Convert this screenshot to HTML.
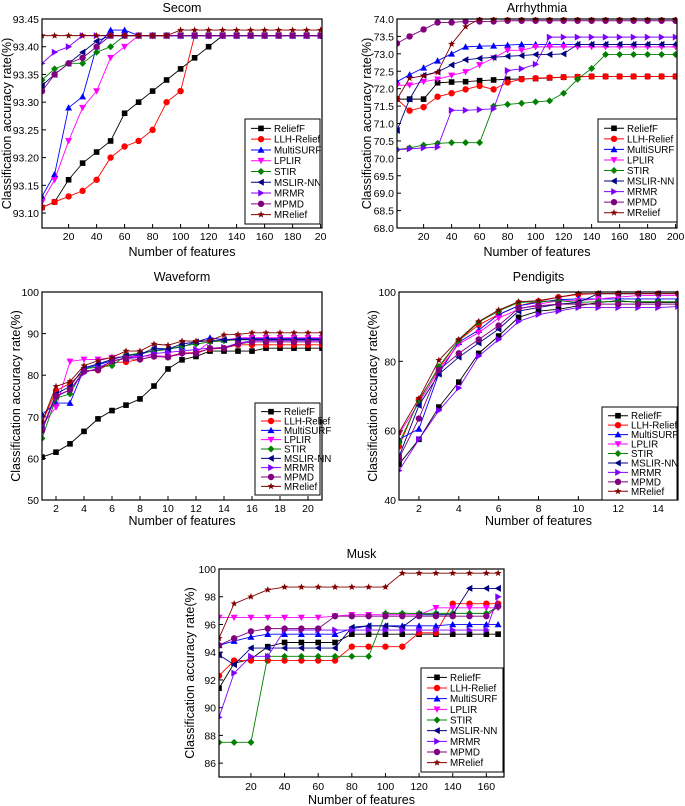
<!DOCTYPE html>
<html><head><meta charset="utf-8">
<style>
html,body{margin:0;padding:0;background:#fff;}
svg{display:block;font-family:"Liberation Sans",Arial,sans-serif;}
</style></head>
<body>
<svg id="root" width="685" height="806" viewBox="0 0 685 806" xmlns="http://www.w3.org/2000/svg"></svg>
<script>
const seriesNames = ["ReliefF","LLH-Relief","MultiSURF","LPLIR","STIR","MSLIR-NN","MRMR","MPMD","MRelief"];
const seriesColors = ["#000000","#ff0000","#0000ff","#ff00ff","#008000","#000080","#8000ff","#800080","#800000"];
const seriesMarkers = ["square","circle","up","down","diamond","left","right","circle","star"];

// Secom
const secomX = [1,10,20,30,40,50,60,70,80,90,100,110,120,130,140,150,160,170,180,190,200];
const secomReliefF = [93.11,93.12,93.16,93.19,93.21,93.23,93.28,93.30,93.32,93.34,93.36,93.38,93.40,93.42,93.42,93.42,93.42,93.42,93.42,93.42,93.42];
const secomLLH = [93.11,93.12,93.13,93.14,93.16,93.20,93.22,93.23,93.25,93.30,93.32,93.42,93.42,93.42,93.42,93.42,93.42,93.42,93.42,93.42,93.42];
const secomMultiSURF = [93.13,93.17,93.29,93.31,93.40,93.43,93.43,93.42,93.42,93.42,93.42,93.42,93.42,93.42,93.42,93.42,93.42,93.42,93.42,93.42,93.42];
const secomLPLIR = [93.12,93.16,93.23,93.29,93.32,93.38,93.40,93.42,93.42,93.42,93.42,93.42,93.42,93.42,93.42,93.42,93.42,93.42,93.42,93.42,93.42];
const secomSTIR = [93.34,93.36,93.37,93.37,93.39,93.40,93.42,93.42,93.42,93.42,93.42,93.42,93.42,93.42,93.42,93.42,93.42,93.42,93.42,93.42,93.42];
const secomMSLIR = [93.33,93.35,93.37,93.39,93.41,93.42,93.42,93.42,93.42,93.42,93.42,93.42,93.42,93.42,93.42,93.42,93.42,93.42,93.42,93.42,93.42];
const secomMRMR = [93.37,93.39,93.40,93.42,93.42,93.42,93.42,93.42,93.42,93.42,93.42,93.42,93.42,93.42,93.42,93.42,93.42,93.42,93.42,93.42,93.42];
const secomMPMD = [93.32,93.35,93.37,93.38,93.40,93.42,93.42,93.42,93.42,93.42,93.42,93.42,93.42,93.42,93.42,93.42,93.42,93.42,93.42,93.42,93.42];
const secomMRelief = [93.42,93.42,93.42,93.42,93.42,93.42,93.42,93.42,93.42,93.42,93.43,93.43,93.43,93.43,93.43,93.43,93.43,93.43,93.43,93.43,93.43];
const secomXTicks = [20,40,60,80,100,120,140,160,180,200];
const secomXTickLabels = ["20","40","60","80","100","120","140","160","180","20"];
const secomYTicks = [93.10,93.15,93.20,93.25,93.30,93.35,93.40,93.45];

// Arrhythmia
const arrX = [1,10,20,30,40,50,60,70,80,90,100,110,120,130,140,150,160,170,180,190,200];
const arrReliefF = [71.7,71.7,71.7,72.17,72.19,72.2,72.23,72.25,72.27,72.28,72.29,72.31,72.33,72.34,72.35,72.35,72.35,72.35,72.35,72.35,72.35];
const arrLLH = [71.7,71.37,71.47,71.77,71.87,71.98,72.08,71.98,72.18,72.27,72.3,72.32,72.33,72.34,72.35,72.35,72.35,72.35,72.35,72.35,72.35];
const arrMultiSURF = [72.2,72.4,72.6,72.8,73.0,73.2,73.22,73.23,73.25,73.27,73.27,73.27,73.27,73.27,73.27,73.27,73.27,73.27,73.27,73.27,73.27];
const arrLPLIR = [72.1,72.1,72.2,72.27,72.38,72.48,72.68,72.88,73.1,73.1,73.2,73.2,73.2,73.2,73.2,73.2,73.2,73.2,73.2,73.2,73.2];
const arrSTIR = [70.25,70.3,70.38,70.43,70.45,70.45,70.45,71.5,71.55,71.58,71.62,71.65,71.87,72.27,72.58,72.98,72.98,72.98,72.98,72.98,72.98];
const arrMSLIR = [70.8,71.7,72.38,72.48,72.68,72.83,72.87,72.9,72.93,72.95,72.98,72.98,73.0,73.27,73.27,73.27,73.27,73.27,73.27,73.27,73.27];
const arrMRMR = [70.25,70.27,70.3,70.32,71.38,71.38,71.4,71.42,72.52,72.57,72.7,73.48,73.48,73.48,73.48,73.48,73.48,73.48,73.48,73.48,73.48];
const arrMPMD = [73.3,73.5,73.7,73.9,73.9,73.93,73.93,73.93,73.95,73.95,73.95,73.95,73.95,73.95,73.95,73.95,73.95,73.95,73.95,73.95,73.95];
const arrMRelief = [71.7,72.3,72.37,72.47,73.28,73.78,74.0,74.0,74.0,74.0,74.0,74.0,74.0,74.0,74.0,74.0,74.0,74.0,74.0,74.0,74.0];
const arrXTicks = [20,40,60,80,100,120,140,160,180,200];
const arrXTickLabels = ["20","40","60","80","100","120","140","160","180","200"];
const arrYTicks = [68.0,68.5,69.0,69.5,70.0,70.5,71.0,71.5,72.0,72.5,73.0,73.5,74.0];

// Waveform
const wavX = [1,2,3,4,5,6,7,8,9,10,11,12,13,14,15,16,17,18,19,20,21];
const wavReliefF = [60.3,61.5,63.5,66.5,69.5,71.5,72.8,74.3,77.4,81.5,83.7,84.5,85.8,85.8,85.8,85.8,86.5,86.5,86.5,86.5,86.5];
const wavLLH = [68.5,76.3,78,81,81.2,83,83.2,83.8,84.5,84.5,85.3,85.5,86.3,86.5,87.3,87.3,87.3,87.3,87.3,87.3,87.3];
const wavMultiSURF = [70.6,73.3,73.3,81.5,82.5,83.5,84,85,86,86.3,86.8,88,89,88.5,88.8,88.8,88.8,88.8,88.8,88.8,88.8];
const wavLPLIR = [68,72.3,83.3,83.8,83.8,84.2,84.5,84.5,84.7,84.5,85,85.5,88,88.3,89,89,89,89,89,89,89];
const wavSTIR = [64.8,74.5,75.5,81.5,82,82.3,84.8,85.3,85.8,86.2,87,87.5,88,88.3,88.5,88.5,88.5,88.5,88.5,88.5,88.5];
const wavMSLIR = [67,75.5,77.3,81.8,82.7,83.8,84.7,85,86.5,86.3,87.5,88,88.3,88.5,88.6,88.6,88.6,88.6,88.6,88.6,88.6];
const wavMRMR = [67.3,74.8,76.5,80.5,81.8,83.3,84.2,84.3,85.2,85.5,85.8,86.2,86.5,86.7,87.7,88.3,88.3,88.3,88.3,88.3,88.3];
const wavMPMD = [66.7,75,76.5,81,81.3,83.5,84,83.8,84.5,84.3,85.3,85.2,86.5,86.5,87.5,88,88,88,88,88,88];
const wavMRelief = [68.8,77.3,78.5,82.3,83.5,84.3,85.8,85.8,87.5,87.2,88.2,88.2,88.3,89.7,89.8,90.2,90.2,90.2,90.2,90.2,90.2];
const wavXTicks = [2,4,6,8,10,12,14,16,18,20];
const wavXTickLabels = ["2","4","6","8","10","12","14","16","18","20"];
const wavYTicks = [50,60,70,80,90,100];

// Pendigits
const penX = [1,2,3,4,5,6,7,8,9,10,11,12,13,14,15];
const penReliefF = [50.3,57.5,66.8,74,82.3,87.3,92.7,94.5,95,96,97,97.5,97,97,97];
const penLLH = [55.5,69,78,86,90.5,93.5,96,97.3,98.5,99.3,99.5,99.5,99.5,99.5,99.5];
const penMultiSURF = [57.5,60.5,76.5,85.5,89,93.5,96,97,97.8,98,98,98,98,98,98];
const penLPLIR = [59,68,77.5,85,88.3,92.5,95,96.5,97.5,97.5,98,98.5,99,99,99];
const penSTIR = [56.5,68.5,78.5,86,91.3,94.5,97,97.2,97.5,97,97.2,97.2,97.2,97.2,97.2];
const penMSLIR = [52.5,67.3,76.3,81.2,85.3,89.3,94.5,95.5,96.5,97,99.5,99.5,99.5,99.5,99.5];
const penMRMR = [48.5,57.5,65.8,72.3,81.5,86.3,91.5,93.5,94.5,95.5,95.5,95.5,95.5,95.5,95.8];
const penMPMD = [52,63.5,77.5,82.3,86.3,90.3,95.3,96,96.5,96.5,96.5,96.5,96.5,96.5,96.5];
const penMRelief = [59.5,69.3,80.3,86.3,91.5,94.8,97.2,97.5,98.5,99.5,99.5,99.5,99.5,99.5,99.5];
const penXTicks = [2,4,6,8,10,12,14];
const penXTickLabels = ["2","4","6","8","10","12","14"];
const penYTicks = [40,60,80,100];

// Musk
const muskX = [1,10,20,30,40,50,60,70,80,90,100,110,120,130,140,150,160,167];
const muskReliefF = [91.4,93.2,93.5,94.4,94.7,94.7,94.7,94.7,95.3,95.3,95.3,95.3,95.3,95.3,95.3,95.3,95.3,95.3];
const muskLLH = [92.3,93.4,93.4,93.4,93.4,93.4,93.4,93.4,94.4,94.4,94.4,94.4,95.4,95.4,97.5,97.5,97.5,97.5];
const muskMultiSURF = [94.5,94.8,95.1,95.3,95.3,95.3,95.3,95.3,95.7,95.9,95.9,95.9,95.9,95.9,96,96,96,96];
const muskLPLIR = [96.5,96.5,96.5,96.5,96.5,96.5,96.5,96.6,96.7,96.7,96.7,96.7,96.7,97.2,97.2,97.2,97.2,97.2];
const muskSTIR = [87.5,87.5,87.5,93.7,93.7,93.7,93.7,93.7,93.7,93.7,96.8,96.8,96.8,96.8,96.8,96.8,96.8,97.3];
const muskMSLIR = [93.8,93.1,94.3,94.3,94.3,94.3,94.3,94.3,95.8,95.9,95.9,95.8,96.7,96.7,96.7,98.6,98.6,98.6];
const muskMRMR = [89.3,92.5,93.7,93.7,95.6,95.6,95.6,95.6,95.6,95.6,95.6,95.6,95.6,95.6,95.6,95.6,95.6,98];
const muskMPMD = [94.5,95,95.5,95.7,95.7,95.7,95.7,96.6,96.6,96.6,96.6,96.6,96.6,96.6,96.6,96.6,96.6,97.3];
const muskMRelief = [95,97.5,98,98.5,98.7,98.7,98.7,98.7,98.7,98.7,98.7,99.7,99.7,99.7,99.7,99.7,99.7,99.7];
const muskXTicks = [20,40,60,80,100,120,140,160];
const muskXTickLabels = ["20","40","60","80","100","120","140","160"];
const muskYTicks = [86,88,90,92,94,96,98,100];

const NS = "http://www.w3.org/2000/svg";
const root = document.getElementById("root");
function mk(tag, attrs, parent){
  const e = document.createElementNS(NS, tag);
  for (const k in attrs) e.setAttribute(k, attrs[k]);
  (parent||root).appendChild(e);
  return e;
}
function marker(g, type, cx, cy, color, s){
  let e;
  if (type==="square") e = mk("rect",{x:cx-s,y:cy-s,width:2*s,height:2*s,fill:color},g);
  else if (type==="circle") e = mk("circle",{cx:cx,cy:cy,r:s+0.4,fill:color},g);
  else {
    let pts;
    const t = s*1.25;
    if (type==="up") pts=[[cx,cy-t],[cx-t,cy+t*0.8],[cx+t,cy+t*0.8]];
    else if (type==="down") pts=[[cx,cy+t],[cx-t,cy-t*0.8],[cx+t,cy-t*0.8]];
    else if (type==="left") pts=[[cx-t,cy],[cx+t*0.8,cy-t],[cx+t*0.8,cy+t]];
    else if (type==="right") pts=[[cx+t,cy],[cx-t*0.8,cy-t],[cx-t*0.8,cy+t]];
    else if (type==="diamond") pts=[[cx,cy-t],[cx+t,cy],[cx,cy+t],[cx-t,cy]];
    else if (type==="star"){
      pts=[];
      for(let i=0;i<10;i++){const r=i%2?t*0.45:t*1.05;const a=-Math.PI/2+i*Math.PI/5;pts.push([cx+r*Math.cos(a),cy+r*Math.sin(a)]);}
    }
    e = mk("polygon",{points:pts.map(p=>p.join(",")).join(" "),fill:color},g);
  }
  return e;
}

function plot(cfg){
  const g = mk("g",{});
  
  
  const {x0,x1,y0,y1,xd,yd} = cfg;
  const sx = v => x0 + (v-xd[0])/(xd[1]-xd[0])*(x1-x0);
  const sy = v => y1 - (v-yd[0])/(yd[1]-yd[0])*(y1-y0);
  const clip = "clip-"+cfg.name;
  const cp = mk("clipPath",{id:clip},g);
  mk("rect",{x:x0,y:y0-2,width:x1-x0,height:y1-y0+4},cp);

  const title = mk("text",{x:(x0+x1)/2,y:cfg.titleY,"text-anchor":"middle","font-size":"12.5"},g);
  title.textContent = cfg.title;
  
  

  cfg.xTicks.forEach((t,i)=>{
    const x = sx(t);
    mk("line",{x1:x,x2:x,y1:y1,y2:y1-4,stroke:"#000","stroke-width":1},g);
    const tl = mk("text",{x:x,y:y1+cfg.xLabOff,"text-anchor":"middle","font-size":"10.5"},g);
    tl.textContent = cfg.xLabels[i];
    
    
  });
  cfg.yTicks.forEach(t=>{
    const y = sy(t);
    mk("line",{x1:x0,x2:x0+4,y1:y,y2:y,stroke:"#000","stroke-width":1},g);
    const tl = mk("text",{x:x0-3,y:y+4,"text-anchor":"end","font-size":"10.5"},g);
    tl.textContent = t.toFixed(cfg.yDec);
    
    
  });
  const xt = mk("text",{x:(x0+x1)/2,y:cfg.xTitleY,"text-anchor":"middle","font-size":"12.5"},g);
  xt.textContent = "Number of features";
  
  
  const yt = mk("text",{x:0,y:0,"text-anchor":"middle","font-size":"12.5",transform:`translate(${cfg.yTitleX},${(y0+y1)/2}) rotate(-90)`},g);
  yt.textContent = "Classification accuracy rate(%)";
  
  

  const sg = mk("g",{"clip-path":`url(#${clip})`},g);
  cfg.series.forEach((vals,si)=>{
    const col = seriesColors[si];
    const pts = vals.map((v,i)=>[sx(cfg.xs[i]),sy(v)]);
    const pl = mk("polyline",{points:pts.map(p=>p.join(",")).join(" "),fill:"none",stroke:col,"stroke-width":0.9},sg);
    
    
    pts.forEach(p=>{
      const m = marker(sg, seriesMarkers[si], p[0], p[1], col, 2.8);
      
      
    });
  });

  const fr = mk("rect",{x:x0,y:y0,width:x1-x0,height:y1-y0,fill:"none",stroke:"#000","stroke-width":1.2},g);
  
  

  const L = cfg.legend;
  const lg = mk("g",{},g);
  
  
  mk("rect",{x:L.x,y:L.y,width:L.w,height:L.h,fill:"#fff",stroke:"#000","stroke-width":1},lg);
  const step = (L.h-8)/9;
  seriesNames.forEach((n,i)=>{
    const yy = L.y+4+step*(i+0.5);
    const ent = mk("g",{},lg);
    
    
    mk("line",{x1:L.x+6,x2:L.x+26,y1:yy,y2:yy,stroke:seriesColors[i],"stroke-width":1},ent);
    marker(ent, seriesMarkers[i], L.x+16, yy, seriesColors[i], 2.8);
    const t = mk("text",{x:L.x+29,y:yy+3.5,"font-size":"9.8"},ent);
    t.textContent = n;
  });
}

plot({name:"secom",title:"Secom",titleY:12,x0:42,x1:322,y0:19,y1:228,xd:[1,201],yd:[93.073,93.45],
  xs:secomX,series:[secomReliefF,secomLLH,secomMultiSURF,secomLPLIR,secomSTIR,secomMSLIR,secomMRMR,secomMPMD,secomMRelief],
  xTicks:secomXTicks,xLabels:secomXTickLabels,yTicks:secomYTicks,yDec:2,xLabOff:12,xTitleY:256,yTitleX:11,
  legend:{x:245,y:119,w:75,h:105}});
plot({name:"arrhythmia",title:"Arrhythmia",titleY:12,x0:397,x1:677,y0:19,y1:228,xd:[1,201],yd:[68,74],
  xs:arrX,series:[arrReliefF,arrLLH,arrMultiSURF,arrLPLIR,arrSTIR,arrMSLIR,arrMRMR,arrMPMD,arrMRelief],
  xTicks:arrXTicks,xLabels:arrXTickLabels,yTicks:arrYTicks,yDec:1,xLabOff:12,xTitleY:256,yTitleX:371,
  legend:{x:598,y:119,w:79,h:103}});
plot({name:"waveform",title:"Waveform",titleY:281,x0:42,x1:322,y0:292,y1:500,xd:[1,21],yd:[50,100],
  xs:wavX,series:[wavReliefF,wavLLH,wavMultiSURF,wavLPLIR,wavSTIR,wavMSLIR,wavMRMR,wavMPMD,wavMRelief],
  xTicks:wavXTicks,xLabels:wavXTickLabels,yTicks:wavYTicks,yDec:0,xLabOff:12,xTitleY:525,yTitleX:20,
  legend:{x:255,y:403,w:65,h:92}});
plot({name:"pendigits",title:"Pendigits",titleY:281,x0:399,x1:678,y0:292,y1:500,xd:[1,15],yd:[40,100],
  xs:penX,series:[penReliefF,penLLH,penMultiSURF,penLPLIR,penSTIR,penMSLIR,penMRMR,penMPMD,penMRelief],
  xTicks:penXTicks,xLabels:penXTickLabels,yTicks:penYTicks,yDec:0,xLabOff:12,xTitleY:525,yTitleX:377,
  legend:{x:602,y:407,w:75,h:93}});
plot({name:"musk",title:"Musk",titleY:558,x0:219,x1:504,y0:569,y1:777,xd:[1,170.5],yd:[85,100],
  xs:muskX,series:[muskReliefF,muskLLH,muskMultiSURF,muskLPLIR,muskSTIR,muskMSLIR,muskMRMR,muskMPMD,muskMRelief],
  xTicks:muskXTicks,xLabels:muskXTickLabels,yTicks:muskYTicks,yDec:0,xLabOff:13,xTitleY:804,yTitleX:194,
  legend:{x:421,y:668,w:82,h:104}});
</script>
</body></html>
